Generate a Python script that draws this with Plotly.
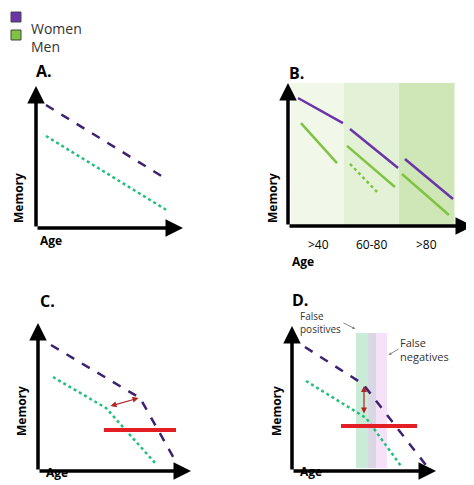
import plotly.graph_objects as go

W, H = 474, 485

# panel data (0-100 units inside each panel's axes)
a_women_x = [6.8, 89.8]
a_women_y = [86.6, 33.8]
a_men_x = [6.8, 89.8]
a_men_y = [64.8, 12.0]

b_band_x0 = [1.6, 30, 60]
b_band_x1 = [30, 60, 90]
b_band_colors = ['#f1f8ea', '#e3f1d6', '#cfe7b6']
b_women = [([5.4, 29.7], [89.5, 72.0]), ([33.5, 59.5], [67.8, 40.6]), ([63.2, 89.2], [46.9, 18.9])]
b_men = [([7.0, 26.5], [72.0, 44.0]), ([31.9, 57.8], [56.0, 27.3]), ([61.6, 87.0], [36.4, 7.7])]
b_men_dot_x = [33.5, 49.2]
b_men_dot_y = [43.4, 22.4]
b_ticks = ['>40', '60-80', '>80']
b_tick_px = [310, 363, 418]

c_women_x = [8.5, 66.7, 89.5]
c_women_y = [85.1, 49.3, 7.4]
c_men_x = [9.8, 44.4, 77.1]
c_men_y = [63.5, 42.6, 4.7]
c_thresh_x = [43.1, 90.2]
c_thresh_y = 27.7

d_women_x = [9.0, 49.3, 93.0]
d_women_y = [85.5, 60.0, 4.1]
d_men_x = [9.7, 51.4, 75.7]
d_men_y = [62.1, 36.6, 3.4]
d_thresh_x = [34.0, 86.8]
d_thresh_y = 31.0

PURPLE = '#6a35a8'
DARK_PURPLE = '#3d2270'
GREEN = '#80c342'
TEAL = '#22c07a'
RED = '#e31e24'

fig = go.Figure()
annos = []
shapes = []


def dom(px0, px1, pyb, pyt):
    return [px0 / W, px1 / W], [1 - pyb / H, 1 - pyt / H]


def paper_text(text, px, py, size=12, angle=0, anchor='center', color='black'):
    return dict(x=px / W, y=1 - py / H, xref='paper', yref='paper', text=text,
                textangle=angle, showarrow=False, xanchor=anchor,
                font=dict(size=size, color=color))


# pixel frame of each panel's axes: x0, x1, y_bottom, y_top
panels = {
    '': (28, 175, 220, 78),
    '2': (280, 465, 218, 75),
    '3': (30, 183, 463, 315),
    '4': (284, 428, 463, 318),
}
layout_axes = {}
for k, (x0, x1, yb, yt) in panels.items():
    dx, dy = dom(x0, x1, yb, yt)
    layout_axes['xaxis' + k] = dict(domain=dx, range=[0, 100], visible=False, fixedrange=True,
                                    anchor='y' + k)
    layout_axes['yaxis' + k] = dict(domain=dy, range=[0, 100], visible=False, fixedrange=True,
                                    anchor='x' + k)
    xr, yr = 'x' + k, 'y' + k
    # axis arrows
    for tx, ty in [(100, 0), (0, 100)]:
        annos.append(dict(x=tx, y=ty, ax=0, ay=0, xref=xr, yref=yr, axref=xr, ayref=yr,
                          showarrow=True, arrowhead=2, arrowsize=1, arrowwidth=3.5,
                          arrowcolor='black', text=''))

# axis titles
for px, py in [(11, 190), (265, 190), (13, 430), (268, 430)]:
    annos.append(paper_text('<b>Memory</b>', px, py, angle=-90))
for px, py in [(30, 232), (282, 253), (36, 475), (290, 474)]:
    annos.append(paper_text('<b>Age</b>', px, py, anchor='left'))
for t, px in zip(b_ticks, b_tick_px):
    annos.append(paper_text(t, px, 236))

# panel letters
for txt, px, py in [('A.', 26, 50), ('B.', 279, 52), ('C.', 30, 293), ('D.', 282, 292)]:
    annos.append(paper_text('<b>' + txt + '</b>', px, py, size=16, anchor='left'))

# legend
for i, (name, col) in enumerate([('Women', PURPLE), ('Men', GREEN)]):
    cy = 9 + 18 * i
    shapes.append(dict(type='rect', xref='paper', yref='paper', x0=3 / W, x1=13 / W,
                       y0=1 - (cy + 5) / H, y1=1 - (cy - 5) / H, fillcolor=col,
                       line=dict(color='#444', width=1)))
    annos.append(paper_text(name, 21, cy, size=14, anchor='left', color='#333'))

# Panel A
fig.add_trace(go.Scatter(x=a_women_x, y=a_women_y, mode='lines', xaxis='x', yaxis='y',
                         line=dict(color=DARK_PURPLE, width=2.5, dash='dash')))
fig.add_trace(go.Scatter(x=a_men_x, y=a_men_y, mode='lines', xaxis='x', yaxis='y',
                         line=dict(color=TEAL, width=2.5, dash='dot')))

# Panel B
for x0, x1, c in zip(b_band_x0, b_band_x1, b_band_colors):
    shapes.append(dict(type='rect', xref='x2', yref='y2', x0=x0, x1=x1, y0=0, y1=101,
                       fillcolor=c, line=dict(width=0), layer='below'))
for xs, ys in b_women:
    fig.add_trace(go.Scatter(x=xs, y=ys, mode='lines', xaxis='x2', yaxis='y2',
                             line=dict(color=PURPLE, width=2.5)))
for xs, ys in b_men:
    fig.add_trace(go.Scatter(x=xs, y=ys, mode='lines', xaxis='x2', yaxis='y2',
                             line=dict(color=GREEN, width=2.5)))
fig.add_trace(go.Scatter(x=b_men_dot_x, y=b_men_dot_y, mode='lines', xaxis='x2', yaxis='y2',
                         line=dict(color=GREEN, width=2.5, dash='dot')))

# Panel C
fig.add_trace(go.Scatter(x=c_women_x, y=c_women_y, mode='lines', xaxis='x3', yaxis='y3',
                         line=dict(color=DARK_PURPLE, width=2.5, dash='dash')))
fig.add_trace(go.Scatter(x=c_men_x, y=c_men_y, mode='lines', xaxis='x3', yaxis='y3',
                         line=dict(color=TEAL, width=2.5, dash='dot')))
fig.add_trace(go.Scatter(x=c_thresh_x, y=[c_thresh_y] * 2, mode='lines', xaxis='x3', yaxis='y3',
                         line=dict(color=RED, width=4)))
annos.append(dict(x=c_women_x[1] - 1, y=c_women_y[1], ax=c_men_x[1] + 2, ay=c_men_y[1] + 1,
                  xref='x3', yref='y3', axref='x3', ayref='y3', showarrow=True,
                  arrowhead=2, startarrowhead=2, arrowside='end+start', arrowsize=1,
                  arrowwidth=1.2, arrowcolor='#b22222', text=''))

# Panel D
shapes.append(dict(type='rect', xref='x4', yref='y4', x0=44.4, x1=58.3, y0=2, y1=95.2,
                   fillcolor='rgba(140,210,170,0.45)', line=dict(width=0), layer='below'))
shapes.append(dict(type='rect', xref='x4', yref='y4', x0=52.8, x1=66.0, y0=2, y1=95.2,
                   fillcolor='rgba(235,190,240,0.45)', line=dict(width=0), layer='below'))
fig.add_trace(go.Scatter(x=d_women_x, y=d_women_y, mode='lines', xaxis='x4', yaxis='y4',
                         line=dict(color=DARK_PURPLE, width=2.5, dash='dash')))
fig.add_trace(go.Scatter(x=d_men_x, y=d_men_y, mode='lines', xaxis='x4', yaxis='y4',
                         line=dict(color=TEAL, width=2.5, dash='dot')))
fig.add_trace(go.Scatter(x=d_thresh_x, y=[d_thresh_y] * 2, mode='lines', xaxis='x4', yaxis='y4',
                         line=dict(color=RED, width=4)))
annos.append(dict(x=50, y=58.6, ax=50, ay=38.6, xref='x4', yref='y4', axref='x4', ayref='y4',
                  showarrow=True, arrowhead=2, startarrowhead=2, arrowside='end+start',
                  arrowsize=1, arrowwidth=1.2, arrowcolor='#b22222', text=''))
annos.append(dict(x=44, y=98, ax=-12, ay=-6, xref='x4', yref='y4', text='False<br>positives',
                  showarrow=True, arrowhead=2, arrowsize=0.6, arrowwidth=1, arrowcolor='#888',
                  xanchor='right', font=dict(size=10, color='#333'), align='left'))
annos.append(dict(x=67, y=80, ax=10, ay=-6, xref='x4', yref='y4', text='False<br>negatives',
                  showarrow=True, arrowhead=2, arrowsize=0.6, arrowwidth=1, arrowcolor='#888',
                  xanchor='left', font=dict(size=11, color='#333'), align='left'))

fig.update_layout(
    width=W, height=H,
    margin=dict(l=0, r=0, t=0, b=0),
    paper_bgcolor='white', plot_bgcolor='rgba(0,0,0,0)',
    showlegend=False,
    font=dict(family='Open Sans, Arial, sans-serif'),
    annotations=annos, shapes=shapes,
    **layout_axes,
)

fig.write_html("out.html")
